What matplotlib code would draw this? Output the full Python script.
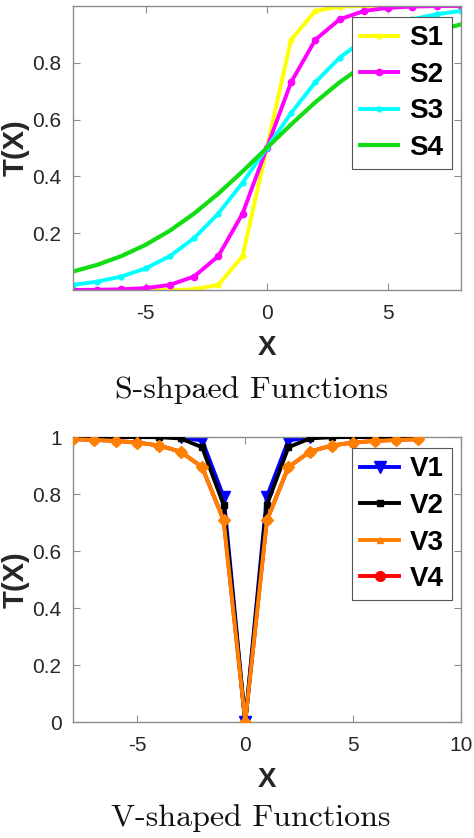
import matplotlib
matplotlib.use("Agg")
import matplotlib.pyplot as plt
from matplotlib.lines import Line2D

plt.rcParams['font.family'] = ['Liberation Sans', 'DejaVu Sans']
plt.rcParams['axes.unicode_minus'] = False

# S-shaped transfer functions, read at x = -8..8
x_s = [-8, -7, -6, -5, -4, -3, -2, -1, 0, 1, 2, 3, 4, 5, 6, 7, 8]
s1 = [0.0000, 0.0000, 0.0000, 0.0000, 0.0003, 0.0025, 0.0180, 0.1192, 0.5,
      0.8808, 0.9820, 0.9975, 0.9997, 1.0000, 1.0000, 1.0000, 1.0000]
s2 = [0.0003, 0.0009, 0.0025, 0.0067, 0.0180, 0.0474, 0.1192, 0.2689, 0.5,
      0.7311, 0.8808, 0.9526, 0.9820, 0.9933, 0.9975, 0.9991, 0.9997]
s3 = [0.0180, 0.0293, 0.0474, 0.0759, 0.1192, 0.1824, 0.2689, 0.3775, 0.5,
      0.6225, 0.7311, 0.8176, 0.8808, 0.9241, 0.9526, 0.9707, 0.9820]
s4 = [0.0650, 0.0884, 0.1192, 0.1589, 0.2086, 0.2689, 0.3392, 0.4174, 0.5,
      0.5826, 0.6608, 0.7311, 0.7914, 0.8411, 0.8808, 0.9116, 0.9350]

# V-shaped transfer functions
x_v = [-8, -7, -6, -5, -4, -3, -2, -1, 0, 1, 2, 3, 4, 5, 6, 7, 8]
v1 = [1.0, 1.0, 1.0, 1.0, 1.0, 0.9998, 0.9876, 0.7900, 0.0,
      0.7900, 0.9876, 0.9998, 1.0, 1.0, 1.0, 1.0, 1.0]
v2 = [1.0, 1.0, 1.0, 0.9999, 0.9993, 0.9951, 0.9640, 0.7616, 0.0,
      0.7616, 0.9640, 0.9951, 0.9993, 0.9999, 1.0, 1.0, 1.0]
v3 = [0.9923, 0.9899, 0.9864, 0.9806, 0.9701, 0.9487, 0.8944, 0.7071, 0.0,
      0.7071, 0.8944, 0.9487, 0.9701, 0.9806, 0.9864, 0.9899, 0.9923]
v4 = v3  # hidden under V3 in the figure

axis_grey = '#8c8c8c'
label_col = '#262626'

leg_kw = dict(loc='upper right', bbox_to_anchor=(0.977, 0.961),
              prop={'size': 20, 'weight': 'bold'}, fancybox=False,
              framealpha=1, edgecolor='#555555', handlelength=1.37,
              borderpad=0.3, labelspacing=0.38, handletextpad=0.4,
              borderaxespad=0.0)


def style_axes(ax):
    for sp in ax.spines.values():
        sp.set_color(axis_grey)
        sp.set_linewidth(1.0)
    ax.tick_params(direction='in', length=5, width=0.8, color=axis_grey,
                   labelcolor=label_col, labelsize=15, top=True, right=True)
    ax.tick_params(axis='x', pad=10)
    ax.tick_params(axis='y', pad=8)
    ax.set_xlabel('X', fontsize=20, fontweight='bold', color=label_col,
                  labelpad=9)
    ax.set_ylabel('T(X)', fontsize=21, fontweight='bold', color=label_col,
                  labelpad=2)


fig = plt.figure(figsize=(4.74, 8.38), dpi=100)

# top: S-shaped
ax1 = fig.add_axes([0.1534, 0.654, 0.819, 0.3389])
ax1.plot(x_s, s1, '.-', color='#ffff00', lw=2.8, ms=7, label='S1')
ax1.plot(x_s, s2, '.-', color='#ff00ff', lw=2.8, ms=9, label='S2')
ax1.plot(x_s, s3, '.-', color='#00ffff', lw=2.8, ms=7, label='S3')
ax1.plot(x_s, s4, '-', color='#11dd11', lw=3.0, label='S4')
ax1.set_xlim(-8, 8)
ax1.set_ylim(0.0003, 0.9997)
ax1.set_xticks([-5, 0, 5])
ax1.set_yticks([0.2, 0.4, 0.6, 0.8])
ax1.set_yticklabels(['0.2', '0.4', '0.6', '0.8'])
style_axes(ax1)
leg1 = ax1.legend(**leg_kw)
leg1.get_frame().set_linewidth(0.8)

# bottom: V-shaped
ax2 = fig.add_axes([0.1534, 0.1384, 0.819, 0.3401])
ax2.plot(x_v, v4, 'o-', color='#ff0000', lw=2.8, ms=6, zorder=1)
ax2.plot(x_v, v1, 'v-', color='#0000ff', lw=2.8, ms=8, zorder=2)
ax2.plot(x_v, v2, 's-', color='#000000', lw=2.8, ms=4, zorder=3)
ax2.plot(x_v, v3, 'D-', color='#ff8000', lw=2.8, ms=6, zorder=4)
ax2.set_xlim(-8, 10)
ax2.set_ylim(0, 1)
ax2.set_xticks([-5, 0, 5, 10])
ax2.set_yticks([0, 0.2, 0.4, 0.6, 0.8, 1])
ax2.set_yticklabels(['0', '0.2', '0.4', '0.6', '0.8', '1'])
style_axes(ax2)
handles = [
    Line2D([], [], color='#0000ff', lw=2.8, marker='v', ms=9),
    Line2D([], [], color='#000000', lw=2.8, marker='s', ms=4),
    Line2D([], [], color='#ff8000', lw=2.8, marker='^', ms=5),
    Line2D([], [], color='#ff0000', lw=2.8, marker='o', ms=7),
]
leg2 = ax2.legend(handles, ['V1', 'V2', 'V3', 'V4'], **leg_kw)
leg2.get_frame().set_linewidth(0.8)

# captions
fig.text(0.53, 0.535, 'S-shpaed Functions', family='cmr10', fontsize=23,
         ha='center', va='center', color='#111111')
fig.text(0.53, 0.024, 'V-shaped Functions', family='cmr10', fontsize=23,
         ha='center', va='center', color='#111111')

fig.savefig('out.png', dpi=100)
